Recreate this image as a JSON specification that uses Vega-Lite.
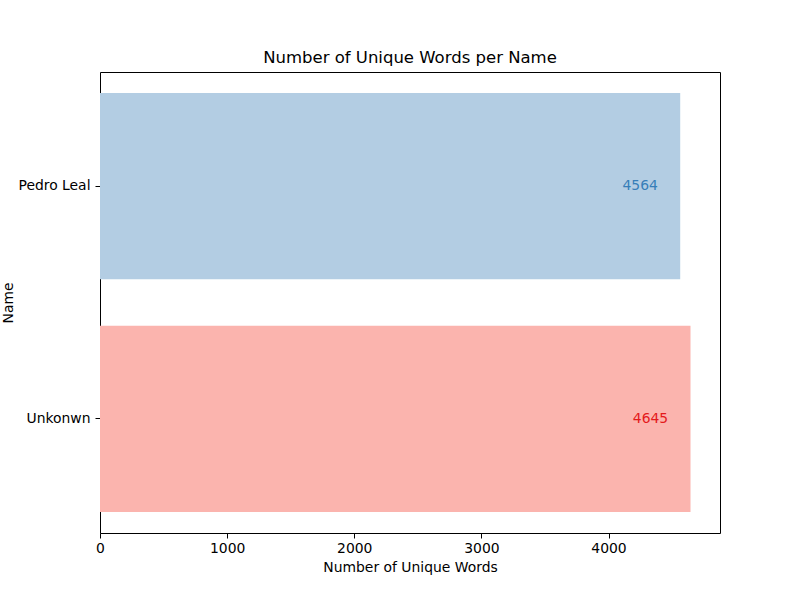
{
  "$schema": "https://vega.github.io/schema/vega-lite/v6.json",
  "autosize": "none",
  "padding": {"left": 100, "top": 72, "right": 80, "bottom": 67},
  "width": 620,
  "height": 461,
  "background": "white",
  "title": {"text": "Number of Unique Words per Name", "font": "DejaVu Sans", "fontSize": 16.5, "fontWeight": "normal", "color": "black", "offset": 6},
  "data": {
    "values": [
      {"Name": "Pedro Leal", "Words": 4564},
      {"Name": "Unkonwn", "Words": 4645}
    ]
  },
  "encoding": {
    "y": {
      "field": "Name", "type": "nominal", "sort": ["Pedro Leal", "Unkonwn"],
      "scale": {"paddingInner": 0.2, "paddingOuter": 0.09},
      "axis": {"title": "Name", "titlePadding": 3, "labelPadding": 5}
    },
    "x": {
      "field": "Words", "type": "quantitative",
      "scale": {"domain": [0, 4877], "nice": false, "zero": true},
      "axis": {"title": "Number of Unique Words", "values": [0, 1000, 2000, 3000, 4000], "format": "d", "labelFlush": false, "titlePadding": 6}
    }
  },
  "layer": [
    {
      "mark": {"type": "bar"},
      "encoding": {
        "color": {"field": "Name", "type": "nominal", "scale": {"domain": ["Pedro Leal", "Unkonwn"], "range": ["#b3cde3", "#fbb4ae"]}, "legend": null}
      }
    },
    {
      "mark": {"type": "text", "align": "center", "baseline": "middle", "dx": -40, "font": "DejaVu Sans", "fontSize": 13.9},
      "encoding": {
        "text": {"field": "Words", "type": "quantitative", "format": "d"},
        "color": {"field": "Name", "type": "nominal", "scale": {"domain": ["Pedro Leal", "Unkonwn"], "range": ["#377eb8", "#e41a1c"]}, "legend": null}
      }
    }
  ],
  "resolve": {"scale": {"color": "independent"}},
  "config": {
    "view": {"stroke": "black", "strokeWidth": 1},
    "axis": {
      "grid": false, "domain": false,
      "tickColor": "black", "tickSize": 5, "tickWidth": 1,
      "labelFont": "DejaVu Sans", "labelFontSize": 13.9, "labelColor": "black", "labelPadding": 3,
      "titleFont": "DejaVu Sans", "titleFontSize": 13.9, "titleFontWeight": "normal", "titleColor": "black"
    },
    "axisY": {"labelAngle": 0}
  }
}
